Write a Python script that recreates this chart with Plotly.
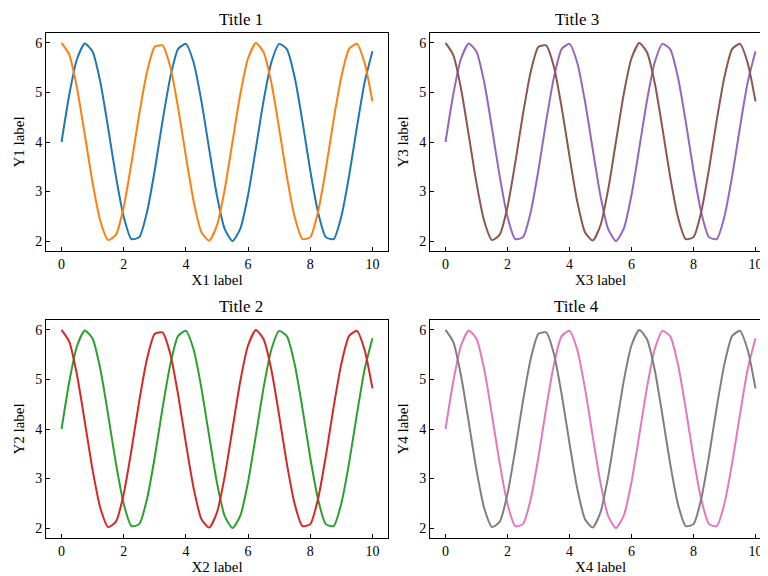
import plotly.graph_objects as go

x = [i * 0.25 for i in range(41)]
sin_vals = [4.00,4.96,5.68,5.99,5.82,5.20,4.28,3.30,2.49,2.04,2.08,2.59,3.44,4.43,5.31,5.88,
            5.98,5.60,4.82,3.85,2.91,2.24,2.00,2.25,2.93,3.87,4.84,5.61,5.98,5.87,5.30,4.41,
            3.42,2.58,2.08,2.04,2.50,3.32,4.30,5.21,5.83]
cos_vals = [6.00,5.76,5.08,4.14,3.17,2.40,2.02,2.13,2.69,3.58,4.57,5.42,5.92,5.95,5.51,4.69,
            3.71,2.80,2.18,2.01,2.32,3.05,4.01,4.97,5.69,6.00,5.81,5.19,4.27,3.29,2.48,2.04,
            2.08,2.59,3.45,4.44,5.32,5.88,5.98,5.59,4.82]

panels = [
    ("Title 1", "X1 label", "Y1 label", "#1f77b4", "#ff7f0e", [38, 380], [25, 243]),
    ("Title 3", "X3 label", "Y3 label", "#9467bd", "#8c564b", [422, 763], [25, 243]),
    ("Title 2", "X2 label", "Y2 label", "#2ca02c", "#d62728", [38, 380], [312, 530]),
    ("Title 4", "X4 label", "Y4 label", "#e377c2", "#7f7f7f", [422, 763], [312, 530]),
]
W, H = 768, 576
fig = go.Figure()
font = dict(family="Liberation Serif", size=15, color="black")
layout = dict(width=W, height=H, margin=dict(l=0, r=0, t=0, b=0), showlegend=False,
              plot_bgcolor="white", paper_bgcolor="white", font=font, annotations=[])
for i, (title, xl, yl, c1, c2, xd, yd) in enumerate(panels):
    n = "" if i == 0 else str(i + 1)
    for ys, c in ((sin_vals, c1), (cos_vals, c2)):
        fig.add_trace(go.Scatter(x=x, y=ys, mode="lines", cliponaxis=True,
                                 line=dict(color=c, width=2, shape="spline", smoothing=0.6),
                                 xaxis="x" + n, yaxis="y" + n))
    dx = [xd[0] / W, xd[1] / W]
    dy = [1 - yd[1] / H, 1 - yd[0] / H]
    common = dict(showgrid=False, zeroline=False, showline=True, linecolor="black", mirror=True,
                  ticks="inside", ticklen=4, tickcolor="black", tickfont=dict(size=14))
    layout["xaxis" + n] = dict(domain=dx, range=[-0.5, 10.5], anchor="y" + n, dtick=2,
                               title=dict(text=xl, standoff=3, font=dict(size=15)), **common)
    layout["yaxis" + n] = dict(domain=dy, range=[1.8, 6.2], anchor="x" + n, dtick=1,
                               title=dict(text=yl, standoff=6, font=dict(size=15)), **common)
    layout["annotations"].append(dict(text=title, x=(dx[0] + dx[1]) / 2, y=dy[1], xref="paper",
                                      yref="paper", yanchor="bottom", showarrow=False,
                                      yshift=2, font=dict(size=17)))
fig.update_layout(**layout)
fig.write_html("out.html")
